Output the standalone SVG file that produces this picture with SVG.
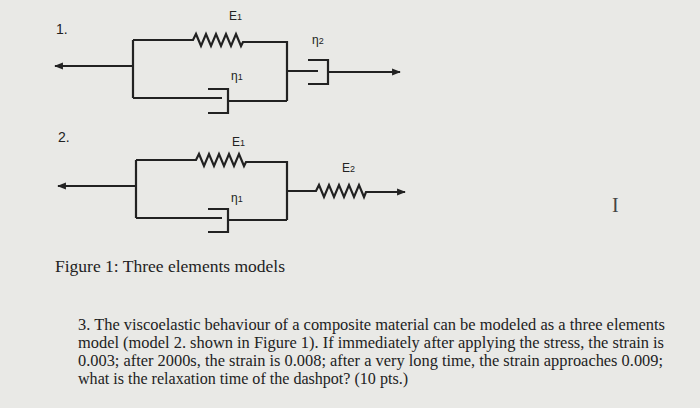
<svg xmlns="http://www.w3.org/2000/svg" width="700" height="408" viewBox="0 0 700 408">
<defs>
<marker id="ah" viewBox="0 0 10 10" refX="9" refY="5" markerWidth="4" markerHeight="4" orient="auto-start-reverse"><path d="M0,1 L10,5 L0,9 z" fill="#222"/></marker>
<style>
.w{fill:none;stroke:#222;stroke-width:2.2}
.l{font-family:"Liberation Sans",Arial,sans-serif;font-size:12px;fill:#222}
.n{font-family:"Liberation Sans",Arial,sans-serif;font-size:14px;fill:#222}
.t{font-family:"Liberation Serif","Times New Roman",serif;font-size:16px;fill:#222}
</style>
</defs>
<rect width="700" height="408" fill="#e9e9e6"/>
<g id="connectors">
<path class="w" d="M133,66 H55" marker-end="url(#ah)"/>
<path class="w" d="M328,72 H400" marker-end="url(#ah)"/>
<path class="w" d="M136,186 H58" marker-end="url(#ah)"/>
<path class="w" d="M370,192 H405" marker-end="url(#ah)"/>
</g>
<g id="model1">
<text class="n" x="56" y="34">1.</text>
<path class="w" d="M133,40 V98 M133,40 H193 l3,-6 l5,12 l5,-12 l5,12 l5,-12 l5,12 l5,-12 l5,12 l5,-12 l5,12 l2,-4 H287 V101"/>
<path class="w" d="M133,98 H222 M208,89 H228 V113 H208 M228,101 H287"/>
<path class="w" d="M287,71 H318 M308,60 H328 V84 H308"/>
<text class="l" x="229" y="20">E<tspan font-size="9">1</tspan></text>
<text class="l" x="312" y="44">η<tspan font-size="9">2</tspan></text>
<text class="l" x="231" y="80">η<tspan font-size="9">1</tspan></text>
</g>
<g id="model2">
<text class="n" x="58" y="142">2.</text>
<path class="w" d="M136,160 V218 M136,160 H196 l3,-6 l5,12 l5,-12 l5,12 l5,-12 l5,12 l5,-12 l5,12 l5,-12 l5,12 l2,-4 H287 V220"/>
<path class="w" d="M136,218 H222 M208,209 H228 V232 H208 M228,220 H287"/>
<path class="w" d="M287,191 H316 l3,-6 l5,12 l5,-12 l5,12 l5,-12 l5,12 l5,-12 l5,12 l5,-12 l5,12 l2,-5 H370"/>
<text class="l" x="232" y="146">E<tspan font-size="9">1</tspan></text>
<text class="l" x="342" y="172">E<tspan font-size="9">2</tspan></text>
<text class="l" x="231" y="202">η<tspan font-size="9">1</tspan></text>
</g>
<text x="612" y="212" font-family="Liberation Serif,serif" font-size="20" fill="#444">I</text>
<text class="t" x="55" y="272" textLength="230" lengthAdjust="spacingAndGlyphs">Figure 1: Three elements models</text>
<text class="t" x="78" y="330" textLength="587" lengthAdjust="spacingAndGlyphs">3. The viscoelastic behaviour of a composite material can be modeled as a three elements</text>
<text class="t" x="78" y="348" textLength="586" lengthAdjust="spacingAndGlyphs">model (model 2. shown in Figure 1). If immediately after applying the stress, the strain is</text>
<text class="t" x="78" y="366" textLength="585" lengthAdjust="spacingAndGlyphs">0.003; after 2000s, the strain is 0.008; after a very long time, the strain approaches 0.009;</text>
<text class="t" x="78" y="384" textLength="330" lengthAdjust="spacingAndGlyphs">what is the relaxation time of the dashpot? (10 pts.)</text>
</svg>
